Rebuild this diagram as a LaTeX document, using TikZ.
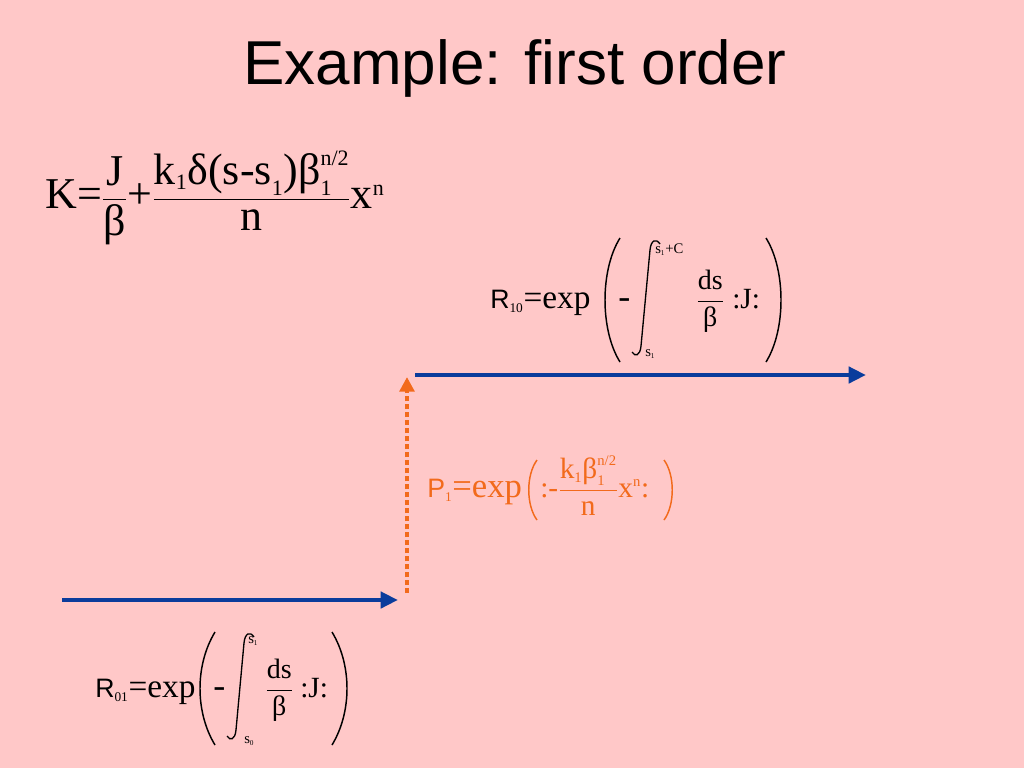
\documentclass[tikz,border=0pt]{standalone}
\usepackage{amsmath}
\usepackage{fontspec}
\setmainfont{Liberation Serif}
\newfontfamily\sanf{Liberation Sans}
\usetikzlibrary{arrows.meta}
\definecolor{bg}{HTML}{FFC8C8}
\definecolor{blu}{HTML}{0A3C9C}
\definecolor{org}{HTML}{F26A1B}
\newcommand\tx[1]{\text{#1}}
\newcommand\sss[1]{{\scriptscriptstyle\text{#1}}}
\tikzset{px/.style={x=0.75pt,y=-0.75pt},
 txt/.style={inner sep=0pt,anchor=base west},
 paren/.style={line width=1.1pt},
 integ/.style={line width=1pt},
 barrow/.style={blu,line width=3.6pt,-{Triangle[length=13pt,width=12pt]}},
 oarrow/.style={org,line width=3.6pt,dash pattern=on 3.5pt off 2.5pt,-{Triangle[length=11pt,width=11pt]}}}
\begin{document}
\begin{tikzpicture}[px]
\fill[bg] (0,0) rectangle (1024,768);
\useasboundingbox (0,0) rectangle (1024,768);
\node (title) at (515,68) {\sanf\fontsize{46.5}{54}\selectfont Example: first order};
% K formula
\node[txt] (K) at (45,208) {\fontsize{33}{38}\selectfont $\tx{K=}\dfrac{\tx{J}}{\tx{β}}\tx{+}\dfrac{\tx{k}_{\sss{1}}\tx{δ(s-s}_{\sss{1}}\tx{)β}^{\sss{n/2}}_{\sss{1}}}{\tx{n}}\tx{x}^{\sss{n}}$};
% R10
\node[txt] (R10) at (490,308) {\fontsize{20}{25}\selectfont{\sanf R}$_{\sss{10}}$\fontsize{25}{30}\selectfont=exp};
\draw[paren] (620,238) .. controls (600,270) and (600,330) .. (620,362);
\draw[paren] (766,238) .. controls (786,270) and (786,330) .. (766,362);
\node[txt] (m10) at (618,308) {\fontsize{27}{30}\selectfont -};
\draw[integ] (660,244) .. controls (656,238) and (651,240) .. (650,250) -- (641,346) .. controls (640,356) and (635,357) .. (632,352);
\node[txt] (t10) at (655,253) {\fontsize{11}{13}\selectfont s$_{\sss{1}}$+C};
\node[txt] (b10) at (645,356) {\fontsize{11}{13}\selectfont s$_{\sss{1}}$};
\node[txt] (f10) at (696,308) {\fontsize{21}{25}\selectfont $\dfrac{\tx{ds}}{\tx{β}}$};
\node[txt] (J10) at (732,308) {\fontsize{22}{25}\selectfont :J:};
% R01
\node[txt] (R01) at (95,697) {\fontsize{20}{25}\selectfont{\sanf R}$_{\sss{01}}$\fontsize{25}{30}\selectfont=exp};
\draw[paren] (215,632) .. controls (195,665) and (195,712) .. (215,745);
\draw[paren] (332,632) .. controls (352,665) and (352,712) .. (332,745);
\node[txt] (m01) at (213,697) {\fontsize{27}{30}\selectfont -};
\draw[integ] (254,637) .. controls (250,631) and (245,633) .. (244,643) -- (236,730) .. controls (235,740) and (230,741) .. (227,736);
\node[txt] (t01) at (248,643) {\fontsize{11}{13}\selectfont s$_{\sss{1}}$};
\node[txt] (b01) at (244,743) {\fontsize{11}{13}\selectfont s$_{\sss{0}}$};
\node[txt] (f01) at (265,697) {\fontsize{21}{25}\selectfont $\dfrac{\tx{ds}}{\tx{β}}$};
\node[txt] (J01) at (300,697) {\fontsize{22}{25}\selectfont :J:};
% P1
\node[txt,text=org] (P1) at (427,497) {\fontsize{20}{25}\selectfont{\sanf P}$_{\sss{1}}$\fontsize{26}{30}\selectfont=exp};
\draw[paren,org] (537,460) .. controls (526,475) and (526,505) .. (537,520);
\draw[paren,org] (664,460) .. controls (675,475) and (675,505) .. (664,520);
\node[txt,text=org] (P1b) at (540,497) {\fontsize{22}{26}\selectfont :-$\dfrac{\tx{k}_{\sss{1}}\tx{β}^{\sss{n/2}}_{\sss{1}}}{\tx{n}}$x$^{\sss{n}}$:};
% arrows
\coordinate (a1) at (62,600); \coordinate (a2) at (398,600);
\coordinate (b1) at (415,375); \coordinate (b2) at (866,375);
\coordinate (c1) at (407,593); \coordinate (c2) at (407,377);
\draw[barrow] (a1) -- (a2);
\draw[barrow] (b1) -- (b2);
\draw[oarrow] (c1) -- (c2);
\end{tikzpicture}
\end{document}
